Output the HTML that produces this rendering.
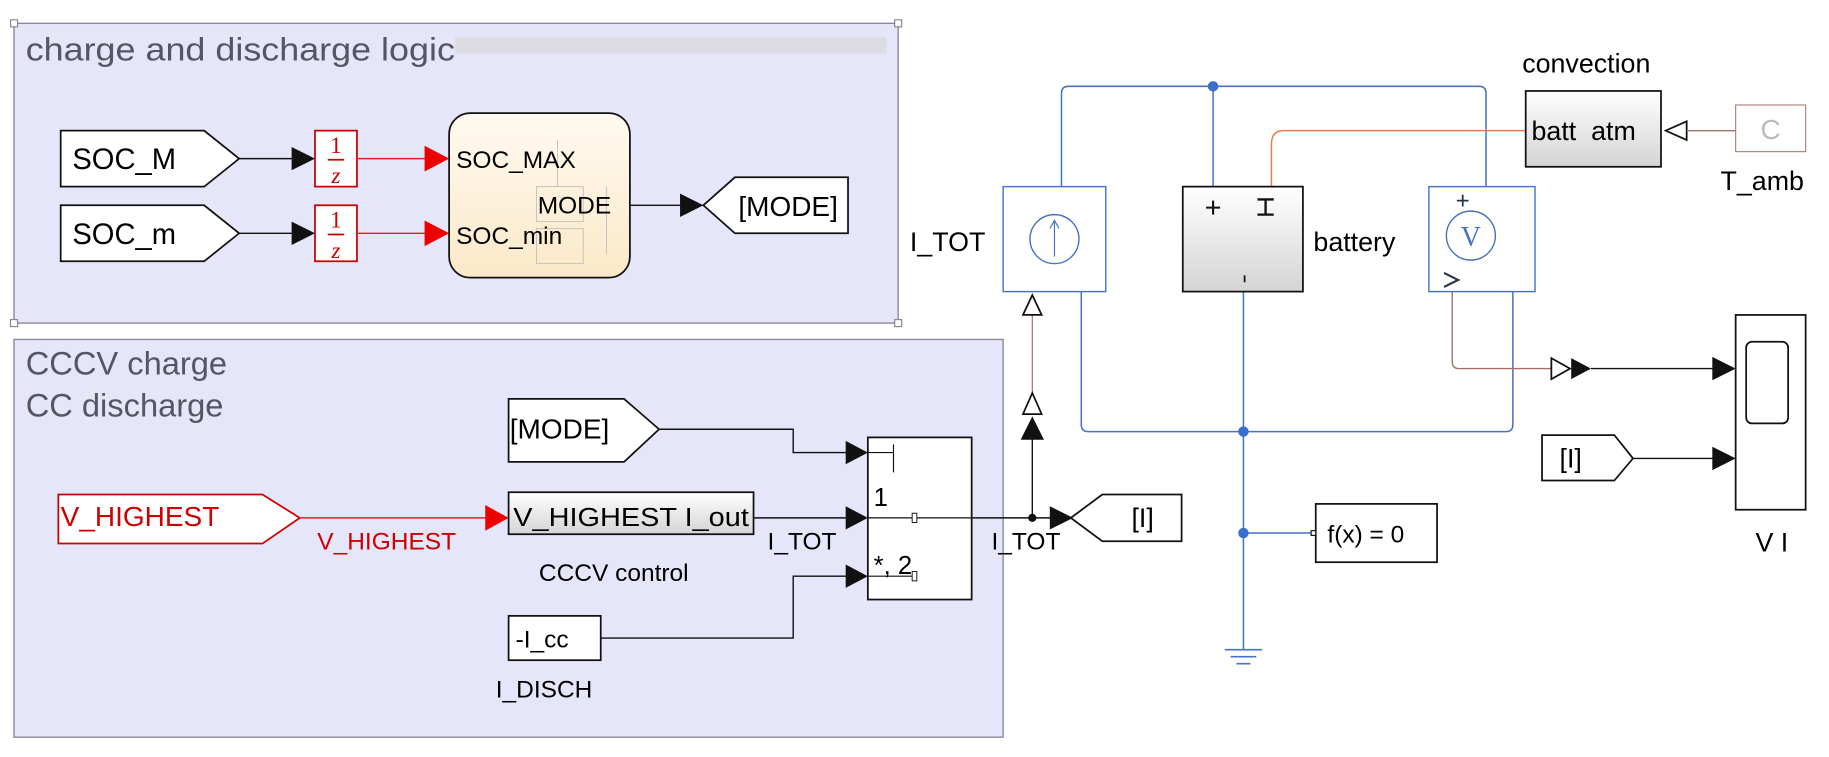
<!DOCTYPE html>
<html><head><meta charset="utf-8"><style>body{margin:0;background:#fff}svg{display:block}</style></head><body>
<svg width="1829" height="757" viewBox="0 0 1568 649" xmlns="http://www.w3.org/2000/svg" font-family="Liberation Sans, sans-serif">
<defs>
<linearGradient id="g" x1="0" y1="0" x2="0" y2="1"><stop offset="0" stop-color="#fff"/><stop offset="1" stop-color="#d4d4d4"/></linearGradient>
<linearGradient id="o" x1="0" y1="0" x2="0" y2="1"><stop offset="0" stop-color="#fffaf0"/><stop offset="1" stop-color="#fbe8c8"/></linearGradient>
</defs>
<rect x="12" y="20" width="758" height="257" fill="#e6e6fa" stroke="#8a8a9a" stroke-width="1.2"/>
<rect x="390" y="32" width="370" height="14" fill="#dcdce2"/>
<text x="22" y="52" font-size="28" fill="#555566" textLength="368" lengthAdjust="spacingAndGlyphs">charge and discharge logic</text>
<rect x="12" y="291" width="848" height="341" fill="#e6e6fa" stroke="#8a8a9a" stroke-width="1.2"/>
<text x="22" y="321" font-size="28" fill="#555566">CCCV charge</text>
<text x="22" y="357" font-size="28" fill="#555566">CC discharge</text>
<g fill="#fff" stroke="#888" stroke-width="1"><rect x="9" y="17" width="6" height="6"/><rect x="767" y="17" width="6" height="6"/><rect x="9" y="274" width="6" height="6"/><rect x="767" y="274" width="6" height="6"/></g>

<g stroke="#111" stroke-width="1.5" fill="#fff">
<path d="M52 112H175L205 136L175 160H52Z"/>
<path d="M52 176H175L205 200L175 224H52Z"/>
<path d="M727 152H630L603 176L630 200H727Z"/>
</g>
<text x="62" y="145" font-size="25">SOC_M</text>
<text x="62" y="209" font-size="25">SOC_m</text>
<text x="633" y="185" font-size="24">[MODE]</text>
<g stroke="#111" stroke-width="1.2"><line x1="205" y1="136" x2="252" y2="136"/><line x1="205" y1="200" x2="252" y2="200"/><line x1="540" y1="176" x2="603" y2="176"/></g>
<g fill="#111"><path d="M250 126L270 136L250 146Z"/><path d="M250 190L270 200L250 210Z"/><path d="M583 166L603 176L583 186Z"/></g>
<g stroke="#c00" stroke-width="1.5" fill="#fff"><rect x="270" y="112" width="36" height="48"/><rect x="270" y="176" width="36" height="48"/></g>
<g fill="#c00" font-family="Liberation Serif, serif" font-size="20" text-anchor="middle"><text x="288" y="131">1</text><text x="288" y="157" font-style="italic">z</text><text x="288" y="195">1</text><text x="288" y="221" font-style="italic">z</text></g>
<g stroke="#c00" stroke-width="1.5"><line x1="281" y1="137" x2="295" y2="137"/><line x1="281" y1="201" x2="295" y2="201"/></g>
<g stroke="#d22" stroke-width="1.2"><line x1="306" y1="136" x2="368" y2="136"/><line x1="306" y1="200" x2="368" y2="200"/></g>
<g fill="#e00"><path d="M364 125L385 136L364 147Z"/><path d="M364 189L385 200L364 211Z"/></g>
<rect x="385" y="97" width="155" height="141" rx="18" fill="url(#o)" stroke="#111" stroke-width="1.5"/>
<g stroke="#bbb" stroke-width="0.7" fill="none"><rect x="460" y="160" width="40" height="30"/><rect x="460" y="196" width="40" height="30"/><path d="M478 120V160M520 160V218"/></g>
<text x="391" y="144" font-size="21">SOC_MAX</text>
<text x="391" y="209" font-size="21">SOC_min</text>
<text x="461" y="183" font-size="21">MODE</text>

<path d="M436 342H535L565 368L535 396H436Z" fill="#fff" stroke="#111" stroke-width="1.5"/>
<text x="437" y="376" font-size="24">[MODE]</text>
<path d="M50 424H225L257 444L225 466H50Z" fill="#fff" stroke="#c00" stroke-width="1.5"/>
<text x="52" y="451" font-size="24" fill="#c00">V_HIGHEST</text>
<line x1="257" y1="444" x2="420" y2="444" stroke="#d22" stroke-width="1.2"/>
<path d="M416 433L436 444L416 455Z" fill="#e00"/>
<text x="272" y="471" font-size="21" fill="#c00">V_HIGHEST</text>
<rect x="436" y="422" width="210" height="36" fill="url(#g)" stroke="#111" stroke-width="1.5"/>
<text x="440" y="451" font-size="22" textLength="202" lengthAdjust="spacingAndGlyphs">V_HIGHEST I_out</text>
<text x="462" y="498" font-size="21">CCCV control</text>
<rect x="436" y="528" width="79" height="38" fill="#fff" stroke="#111" stroke-width="1.5"/>
<text x="442" y="555" font-size="21">-I_cc</text>
<text x="425" y="598" font-size="21">I_DISCH</text>
<g stroke="#111" stroke-width="1.2" fill="none">
<path d="M565 368H680V388H728"/><path d="M646 444H728"/><path d="M515 547H680V494H728"/><path d="M833 444H902"/><path d="M885 444V375"/>
</g>
<g fill="#111"><path d="M725 378L744 388L725 398Z"/><path d="M725 434L744 444L725 454Z"/><path d="M725 484L744 494L725 504Z"/><path d="M900 434L920 444L900 454Z"/><path d="M875 377L885 357L895 377Z"/></g>
<circle cx="885" cy="444" r="3.5" fill="#111"/>
<text x="658" y="471" font-size="21">I_TOT</text>
<text x="850" y="471" font-size="21">I_TOT</text>
<rect x="744" y="375" width="89" height="139" fill="#fff" stroke="#111" stroke-width="1.5"/>
<g stroke="#111" stroke-width="1"><path d="M744 388H766M766 381V405M744 444H833M744 494H784"/></g>
<g fill="#fff" stroke="#111" stroke-width="0.8"><rect x="782" y="440" width="4" height="8"/><rect x="782" y="490" width="4" height="8"/></g>
<text x="749" y="434" font-size="22">1</text>
<text x="749" y="492" font-size="22">*, 2</text>
<path d="M1013 424H945L918 444L945 464H1013Z" fill="#fff" stroke="#111" stroke-width="1.5"/>
<text x="970" y="452" font-size="23">[I]</text>
<path d="M885 355V270" stroke="#a0706a" stroke-width="1"/>
<g fill="#fff" stroke="#111" stroke-width="1.5"><path d="M877 355L885 337L893 355Z"/><path d="M877 270L885 253L893 270Z"/></g>

<g stroke="#4472c4" stroke-width="1.3" fill="none">
<path d="M910 160V80Q910 74 916 74H1268Q1274 74 1274 80V180"/>
<path d="M1040 74V160"/>
<path d="M927 250V364Q927 370 933 370H1291Q1297 370 1297 364V243H1282V236"/>
<path d="M1066 250V557"/><path d="M1066 457H1125"/>
<path d="M1050 557H1082M1055 563H1077M1060 569H1072"/>
</g>
<g fill="#3a6fd0"><circle cx="1040" cy="74" r="4.5"/><circle cx="1066" cy="370" r="4.5"/><circle cx="1066" cy="457" r="4.5"/></g>
<rect x="1128" y="432" width="104" height="50" fill="#fff" stroke="#111" stroke-width="1.5"/>
<rect x="1124" y="455" width="4" height="4" fill="#fff" stroke="#111"/>
<text x="1138" y="465" font-size="21">f(x) = 0</text>
<path d="M1090 160V124Q1090 112 1100 112H1310" stroke="#e0804a" stroke-width="1.3" fill="none"/>
<rect x="860" y="160" width="88" height="90" fill="#fff" stroke="#4472c4" stroke-width="1.2"/>
<circle cx="904" cy="205" r="21" fill="none" stroke="#4472c4" stroke-width="1.2"/>
<path d="M904 220V190M900 196L904 189L908 196" stroke="#4472c4" fill="none"/>
<text x="780" y="215" font-size="23">I_TOT</text>
<rect x="1014" y="160" width="103" height="90" fill="url(#g)" stroke="#111" stroke-width="1.5"/>
<path d="M1034 178H1046M1040 172V184" stroke="#111" stroke-width="1.8"/>
<path d="M1078 171H1092M1085 171V184M1078 184H1092" stroke="#111" stroke-width="2"/>
<path d="M1067 236V242" stroke="#111" stroke-width="1.5"/>
<text x="1126" y="215" font-size="23">battery</text>
<rect x="1225" y="160" width="91" height="90" fill="#fff" stroke="#4472c4" stroke-width="1.2"/>
<circle cx="1261" cy="202" r="21" fill="#fff" stroke="#4472c4" stroke-width="1.2"/>
<text x="1261" y="211" font-size="24" text-anchor="middle" fill="#4472c4" font-family="Liberation Serif, serif">V</text>
<path d="M1249 172H1259M1254 167V177" stroke="#234" stroke-width="1.5"/>
<path d="M1238 234L1250 240L1238 246" stroke="#234" stroke-width="1.8" fill="none"/>
<path d="M1245 250V310Q1245 316 1251 316H1330" stroke="#a0706a" stroke-width="1.2" fill="none"/>
<path d="M1330 307L1346 316L1330 325Z" fill="#fff" stroke="#111" stroke-width="1.5"/>
<path d="M1347 307L1364 316L1347 325Z" fill="#111"/>
<path d="M1364 316H1472" stroke="#111" stroke-width="1.2"/>
<path d="M1468 306L1488 316L1468 326Z" fill="#111"/>
<rect x="1308" y="78" width="116" height="65" fill="url(#g)" stroke="#111" stroke-width="1.5"/>
<text x="1313" y="120" font-size="23" xml:space="preserve">batt  atm</text>
<text x="1305" y="62" font-size="23">convection</text>
<path d="M1446 104L1428 112L1446 120Z" fill="#fff" stroke="#111" stroke-width="1.5"/>
<path d="M1446 112H1488" stroke="#a0706a" stroke-width="1.2"/>
<rect x="1488" y="90" width="60" height="40" fill="#fff" stroke="#b08080" stroke-width="1"/>
<text x="1518" y="119" font-size="24" text-anchor="middle" fill="#bbb">C</text>
<text x="1475" y="163" font-size="23">T_amb</text>
<rect x="1488" y="270" width="60" height="167" fill="#fff" stroke="#111" stroke-width="1.5"/>
<rect x="1497" y="293" width="36" height="70" rx="5" fill="#fff" stroke="#111" stroke-width="1.5"/>
<text x="1505" y="473" font-size="23">V I</text>
<path d="M1322 373H1384L1400 393L1384 412H1322Z" fill="#fff" stroke="#111" stroke-width="1.5"/>
<text x="1337" y="401" font-size="23">[I]</text>
<path d="M1400 393H1472" stroke="#111" stroke-width="1.2"/>
<path d="M1468 383L1488 393L1468 403Z" fill="#111"/>
</svg>
</body></html>
